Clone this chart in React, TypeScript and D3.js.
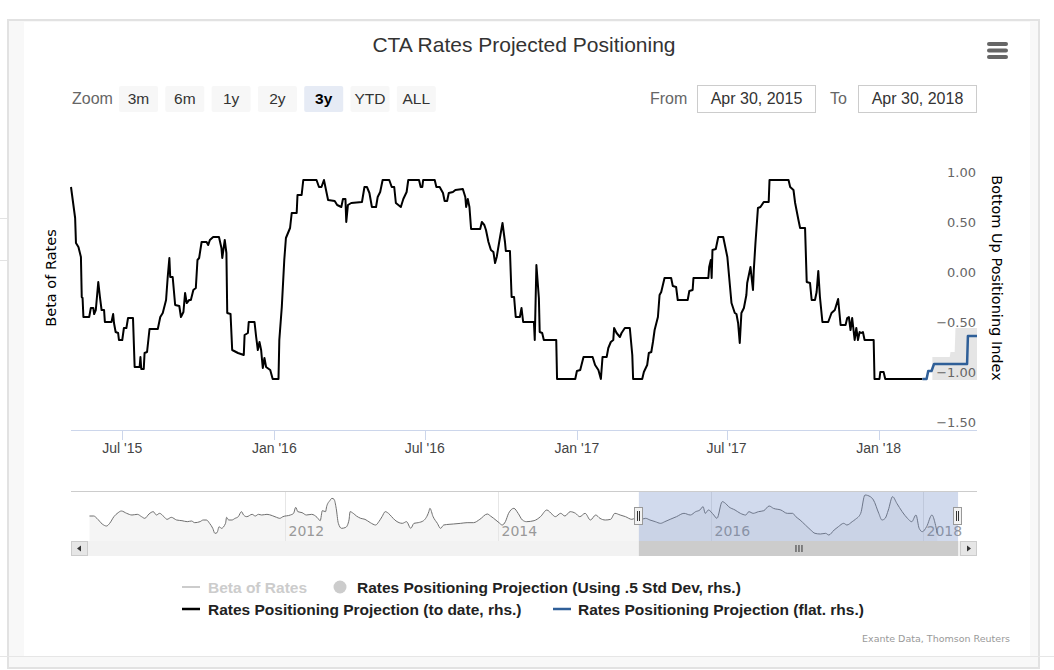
import React from 'react';
import * as d3 from 'd3';

const W = 1054;
const H = 670;

// Rates Positioning Projection (to date, rhs.)
const toDateSeries: [string, number][] = [
  ['2015-04-30', 0.93], ['2015-05-05', 0.62], ['2015-05-06', 0.37], ['2015-05-09', 0.33], ['2015-05-12', 0.23],
  ['2015-05-13', -0.17], ['2015-05-14', -0.18], ['2015-05-15', -0.37], ['2015-05-22', -0.37], ['2015-05-24', -0.28],
  ['2015-05-27', -0.28], ['2015-05-28', -0.34], ['2015-05-30', -0.3], ['2015-06-02', -0.02], ['2015-06-04', -0.17],
  ['2015-06-06', -0.3], ['2015-06-09', -0.3], ['2015-06-10', -0.42], ['2015-06-18', -0.42], ['2015-06-20', -0.34],
  ['2015-06-21', -0.43], ['2015-06-23', -0.52], ['2015-06-26', -0.53], ['2015-06-27', -0.6], ['2015-07-01', -0.6],
  ['2015-07-03', -0.48], ['2015-07-06', -0.48], ['2015-07-08', -0.38], ['2015-07-14', -0.38], ['2015-07-16', -0.87],
  ['2015-07-22', -0.87], ['2015-07-23', -0.77], ['2015-07-24', -0.89], ['2015-07-27', -0.89], ['2015-07-28', -0.73],
  ['2015-07-31', -0.72], ['2015-08-03', -0.49], ['2015-08-13', -0.49], ['2015-08-16', -0.37], ['2015-08-19', -0.33],
  ['2015-08-23', -0.2], ['2015-08-25', 0.03], ['2015-08-27', 0.22], ['2015-08-28', 0.03], ['2015-08-31', 0.03],
  ['2015-09-03', -0.25], ['2015-09-08', -0.26], ['2015-09-10', -0.37], ['2015-09-13', -0.32], ['2015-09-15', -0.13],
  ['2015-09-17', -0.23], ['2015-09-20', -0.2], ['2015-09-22', -0.2], ['2015-09-25', -0.1], ['2015-09-28', -0.08],
  ['2015-09-30', 0.2], ['2015-10-02', 0.22], ['2015-10-05', 0.38], ['2015-10-11', 0.38], ['2015-10-13', 0.35],
  ['2015-10-15', 0.4], ['2015-10-19', 0.43], ['2015-10-26', 0.43], ['2015-10-29', 0.32], ['2015-10-30', 0.22],
  ['2015-11-02', 0.4], ['2015-11-04', 0.27], ['2015-11-05', -0.33], ['2015-11-09', -0.34], ['2015-11-11', -0.7],
  ['2015-11-18', -0.73], ['2015-11-25', -0.75], ['2015-11-26', -0.55], ['2015-11-30', -0.53], ['2015-12-01', -0.42],
  ['2015-12-08', -0.42], ['2015-12-10', -0.57], ['2015-12-12', -0.7], ['2015-12-14', -0.62], ['2015-12-16', -0.7],
  ['2015-12-18', -0.88], ['2015-12-20', -0.78], ['2015-12-22', -0.87], ['2015-12-27', -0.9], ['2015-12-30', -0.99],
  ['2016-01-06', -0.99], ['2016-01-07', -0.6], ['2016-01-10', -0.27], ['2016-01-13', 0.2], ['2016-01-15', 0.42],
  ['2016-01-20', 0.52], ['2016-01-22', 0.67], ['2016-01-28', 0.67], ['2016-01-29', 0.85], ['2016-02-03', 0.85],
  ['2016-02-05', 1.0], ['2016-02-21', 1.0], ['2016-02-24', 0.93], ['2016-02-27', 0.93], ['2016-03-01', 1.0],
  ['2016-03-06', 0.8], ['2016-03-14', 0.79], ['2016-03-17', 0.75], ['2016-03-22', 0.73], ['2016-03-24', 0.81],
  ['2016-03-27', 0.81], ['2016-03-28', 0.58], ['2016-03-30', 0.75], ['2016-04-03', 0.77], ['2016-04-16', 0.78],
  ['2016-04-19', 0.93], ['2016-04-22', 0.93], ['2016-04-25', 0.87], ['2016-04-28', 0.73], ['2016-05-03', 0.73],
  ['2016-05-05', 0.83], ['2016-05-08', 0.88], ['2016-05-11', 1.0], ['2016-05-19', 1.0], ['2016-05-22', 0.93],
  ['2016-05-25', 0.93], ['2016-05-27', 0.77], ['2016-06-02', 0.73], ['2016-06-05', 0.81], ['2016-06-09', 0.88],
  ['2016-06-11', 1.0], ['2016-06-24', 1.0], ['2016-06-26', 0.93], ['2016-06-28', 0.93], ['2016-06-29', 1.0],
  ['2016-07-13', 1.0], ['2016-07-15', 0.93], ['2016-07-19', 0.93], ['2016-07-23', 0.87], ['2016-07-25', 0.79],
  ['2016-07-28', 0.79], ['2016-07-30', 0.87], ['2016-08-04', 0.88], ['2016-08-07', 0.9], ['2016-08-16', 0.91],
  ['2016-08-19', 0.83], ['2016-08-20', 0.73], ['2016-08-22', 0.81], ['2016-08-24', 0.73], ['2016-08-26', 0.51],
  ['2016-09-06', 0.51], ['2016-09-08', 0.58], ['2016-09-11', 0.55], ['2016-09-13', 0.5], ['2016-09-16', 0.38],
  ['2016-09-19', 0.3], ['2016-09-22', 0.28], ['2016-09-24', 0.17], ['2016-09-26', 0.23], ['2016-09-29', 0.38],
  ['2016-10-03', 0.57], ['2016-10-06', 0.38], ['2016-10-07', 0.29], ['2016-10-12', 0.29], ['2016-10-14', -0.17],
  ['2016-10-17', -0.17], ['2016-10-19', -0.37], ['2016-10-24', -0.37], ['2016-10-26', -0.28], ['2016-10-28', -0.42],
  ['2016-11-10', -0.42], ['2016-11-11', -0.6], ['2016-11-13', 0.15], ['2016-11-16', -0.18], ['2016-11-17', -0.52],
  ['2016-11-20', -0.53], ['2016-11-22', -0.6], ['2016-12-07', -0.6], ['2016-12-08', -0.99], ['2016-12-30', -0.99],
  ['2017-01-01', -0.91], ['2017-01-05', -0.9], ['2017-01-09', -0.77], ['2017-01-20', -0.77], ['2017-01-23', -0.85],
  ['2017-01-27', -0.9], ['2017-01-30', -0.99], ['2017-02-01', -0.77], ['2017-02-06', -0.77], ['2017-02-08', -0.68],
  ['2017-02-11', -0.62], ['2017-02-14', -0.6], ['2017-02-15', -0.48], ['2017-02-18', -0.53], ['2017-02-22', -0.57],
  ['2017-02-24', -0.53], ['2017-02-28', -0.48], ['2017-03-06', -0.48], ['2017-03-09', -0.75], ['2017-03-10', -0.99],
  ['2017-03-21', -0.99], ['2017-03-23', -0.92], ['2017-03-27', -0.85], ['2017-03-29', -0.73], ['2017-04-01', -0.72],
  ['2017-04-03', -0.62], ['2017-04-05', -0.5], ['2017-04-09', -0.37], ['2017-04-11', -0.15], ['2017-04-13', -0.12],
  ['2017-04-17', 0.02], ['2017-04-25', 0.02], ['2017-04-27', -0.06], ['2017-05-01', -0.07], ['2017-05-03', -0.2],
  ['2017-05-15', -0.2], ['2017-05-17', -0.11], ['2017-05-21', -0.1], ['2017-05-22', 0.02], ['2017-06-09', 0.02],
  ['2017-06-10', 0.13], ['2017-06-12', 0.2], ['2017-06-13', 0.02], ['2017-06-14', 0.3], ['2017-06-18', 0.31],
  ['2017-06-21', 0.43], ['2017-06-27', 0.43], ['2017-07-02', 0.23], ['2017-07-07', -0.23], ['2017-07-11', -0.33],
  ['2017-07-13', -0.34], ['2017-07-15', -0.43], ['2017-07-17', -0.63], ['2017-07-19', -0.33], ['2017-07-22', -0.28],
  ['2017-07-25', -0.15], ['2017-07-26', -0.03], ['2017-07-30', 0.13], ['2017-07-31', 0.05], ['2017-08-02', -0.1],
  ['2017-08-03', 0.1], ['2017-08-05', 0.37], ['2017-08-08', 0.72], ['2017-08-11', 0.73], ['2017-08-15', 0.78],
  ['2017-08-21', 0.78], ['2017-08-22', 1.0], ['2017-09-14', 1.0], ['2017-09-16', 0.93], ['2017-09-20', 0.9],
  ['2017-09-22', 0.77], ['2017-09-26', 0.6], ['2017-09-28', 0.52], ['2017-10-04', 0.52], ['2017-10-06', -0.02],
  ['2017-10-10', -0.03], ['2017-10-12', -0.2], ['2017-10-16', -0.2], ['2017-10-18', -0.12], ['2017-10-20', 0.09],
  ['2017-10-22', -0.17], ['2017-10-25', -0.42], ['2017-11-01', -0.42], ['2017-11-05', -0.33], ['2017-11-09', -0.3],
  ['2017-11-13', -0.19], ['2017-11-16', -0.45], ['2017-11-22', -0.45], ['2017-11-24', -0.38], ['2017-11-26', -0.37],
  ['2017-11-28', -0.5], ['2017-11-30', -0.38], ['2017-12-03', -0.6], ['2017-12-05', -0.48], ['2017-12-07', -0.6],
  ['2017-12-09', -0.52], ['2017-12-11', -0.53], ['2017-12-13', -0.52], ['2017-12-15', -0.6], ['2017-12-26', -0.6],
  ['2017-12-27', -0.99], ['2018-01-02', -0.99], ['2018-01-03', -0.92], ['2018-01-07', -0.92], ['2018-01-09', -0.99],
  ['2018-02-23', -0.99],
];

// Rates Positioning Projection (flat. rhs.)
const flatSeries: [string, number][] = [
  ['2018-02-23', -0.99], ['2018-02-28', -0.99], ['2018-03-02', -0.91], ['2018-03-06', -0.91],
  ['2018-03-09', -0.84], ['2018-04-18', -0.84], ['2018-04-19', -0.56], ['2018-04-30', -0.56],
];

// Rates Positioning Projection (Using .5 Std Dev, rhs.)
const bandDates = ['2018-03-07', '2018-03-28', '2018-03-29', '2018-04-03', '2018-04-04', '2018-04-30'];
const bandLow = [-1.0, -1.0, -1.0, -1.0, -1.0, -1.0];
const bandHigh = [-0.77, -0.77, -0.72, -0.72, -0.48, -0.48];

// Beta of Rates (navigator), [decimal year, value]
const betaSeries: [number, number][] = [
  [2010.16, 0.57], [2010.2, 0.57], [2010.23, 0.5], [2010.28, 0.33], [2010.32, 0.27], [2010.35, 0.35],
  [2010.39, 0.55], [2010.43, 0.67], [2010.46, 0.72], [2010.51, 0.65], [2010.56, 0.6], [2010.61, 0.62],
  [2010.65, 0.55], [2010.68, 0.5], [2010.72, 0.63], [2010.76, 0.7], [2010.79, 0.6], [2010.82, 0.65],
  [2010.86, 0.55], [2010.89, 0.47], [2010.93, 0.53], [2010.98, 0.45], [2011.03, 0.43], [2011.08, 0.4],
  [2011.12, 0.42], [2011.15, 0.37], [2011.2, 0.4], [2011.23, 0.45], [2011.26, 0.45], [2011.29, 0.35],
  [2011.32, 0.2], [2011.34, 0.05], [2011.36, 0.07], [2011.38, 0.25], [2011.4, 0.2], [2011.44, 0.35],
  [2011.45, 0.53], [2011.47, 0.45], [2011.5, 0.45], [2011.53, 0.5], [2011.56, 0.55], [2011.59, 0.7],
  [2011.61, 0.6], [2011.64, 0.55], [2011.69, 0.62], [2011.72, 0.57], [2011.75, 0.62], [2011.78, 0.6],
  [2011.83, 0.62], [2011.88, 0.58], [2011.92, 0.53], [2011.95, 0.5], [2011.98, 0.55], [2012.05, 0.6],
  [2012.08, 0.65], [2012.1, 0.83], [2012.12, 0.7], [2012.16, 0.67], [2012.2, 0.6], [2012.25, 0.62],
  [2012.3, 0.53], [2012.33, 0.43], [2012.35, 0.73], [2012.38, 0.7], [2012.39, 0.85], [2012.42, 1.03],
  [2012.44, 1.1], [2012.46, 1.07], [2012.48, 0.8], [2012.5, 0.35], [2012.53, 0.2], [2012.57, 0.23],
  [2012.6, 0.45], [2012.61, 0.7], [2012.64, 0.65], [2012.67, 0.57], [2012.71, 0.5], [2012.75, 0.47],
  [2012.8, 0.37], [2012.85, 0.3], [2012.88, 0.4], [2012.91, 0.55], [2012.94, 0.7], [2012.97, 0.65],
  [2013.0, 0.55], [2013.03, 0.45], [2013.07, 0.37], [2013.1, 0.35], [2013.14, 0.4], [2013.18, 0.2],
  [2013.21, 0.35], [2013.25, 0.37], [2013.3, 0.43], [2013.35, 0.7], [2013.36, 0.8], [2013.39, 0.55],
  [2013.43, 0.35], [2013.46, 0.2], [2013.49, 0.3], [2013.54, 0.32], [2013.58, 0.33], [2013.65, 0.35],
  [2013.71, 0.37], [2013.77, 0.37], [2013.83, 0.47], [2013.9, 0.63], [2013.93, 0.57], [2013.96, 0.5],
  [2014.01, 0.37], [2014.04, 0.3], [2014.07, 0.4], [2014.1, 0.65], [2014.15, 0.8], [2014.19, 0.65],
  [2014.23, 0.45], [2014.27, 0.4], [2014.34, 0.43], [2014.4, 0.55], [2014.46, 0.75], [2014.51, 0.62],
  [2014.54, 0.55], [2014.59, 0.65], [2014.63, 0.57], [2014.68, 0.7], [2014.73, 0.65], [2014.77, 0.55],
  [2014.82, 0.65], [2014.87, 0.45], [2014.92, 0.6], [2014.96, 0.5], [2015.01, 0.45], [2015.06, 0.47],
  [2015.1, 0.65], [2015.15, 0.6], [2015.2, 0.55], [2015.26, 0.47], [2015.29, 0.5], [2015.34, 0.47],
  [2015.39, 0.5], [2015.43, 0.45], [2015.48, 0.4], [2015.53, 0.35], [2015.57, 0.4], [2015.62, 0.47],
  [2015.68, 0.55], [2015.75, 0.65], [2015.81, 0.6], [2015.86, 0.7], [2015.9, 0.75], [2015.93, 0.85],
  [2015.95, 0.65], [2015.98, 0.75], [2016.03, 0.6], [2016.06, 0.5], [2016.11, 1.0], [2016.14, 0.95],
  [2016.17, 0.85], [2016.23, 0.75], [2016.28, 0.65], [2016.33, 0.6], [2016.36, 0.7], [2016.4, 0.65],
  [2016.45, 0.7], [2016.5, 0.73], [2016.55, 0.87], [2016.59, 0.8], [2016.66, 0.75], [2016.72, 0.65],
  [2016.77, 0.65], [2016.8, 0.55], [2016.84, 0.45], [2016.89, 0.3], [2016.94, 0.15], [2016.98, 0.05],
  [2017.03, 0.03], [2017.08, 0.05], [2017.11, 0.0], [2017.16, 0.15], [2017.2, 0.25], [2017.25, 0.35],
  [2017.28, 0.3], [2017.33, 0.4], [2017.36, 0.47], [2017.41, 0.65], [2017.45, 1.2], [2017.5, 1.15],
  [2017.53, 1.05], [2017.58, 0.65], [2017.61, 0.45], [2017.64, 0.5], [2017.67, 0.75], [2017.71, 1.15],
  [2017.75, 0.95], [2017.8, 0.7], [2017.85, 0.5], [2017.89, 0.4], [2017.93, 0.6], [2017.96, 0.2],
  [2017.99, 0.1], [2018.03, 0.25], [2018.08, 0.6], [2018.11, 0.35], [2018.13, 0.05],
];

const zoomButtons = ['3m', '6m', '1y', '2y', '3y', 'YTD', 'ALL'];
const selectedButton = '3y';
const yTicks = [1, 0.5, 0, -0.5, -1, -1.5];
const navYears = [2012, 2014, 2016, 2018];
const rangeFrom = '2015-04-30';
const rangeTo = '2018-04-30';
const navFrom = '2009-12-27';
const navTo = '2018-07-04';

const legendNames = [
  'Beta of Rates',
  'Rates Positioning Projection (Using .5 Std Dev, rhs.)',
  'Rates Positioning Projection (to date, rhs.)',
  'Rates Positioning Projection (flat. rhs.)',
];
const seriesColors = ['#cccccc', '#cccccc', '#000000', '#2f5f98'];

const SANS = "'Liberation Sans', Arial, sans-serif";
const VERD = "'DejaVu Sans', Verdana, sans-serif";

const parse = d3.timeParse('%Y-%m-%d');
const yearToDate = (v: number) => {
  const yr = Math.floor(v);
  const a = new Date(yr, 0, 1).getTime();
  const b = new Date(yr + 1, 0, 1).getTime();
  return new Date(a + (v - yr) * (b - a));
};

const App: React.FC = () => {
  const plot = { left: 71, right: 977, top: 180, bottom: 430 };
  const nav = { top: 492, bottom: 541 };
  const titleMid = 278;

  const x = d3.scaleTime().domain([parse(rangeFrom)!, parse(rangeTo)!]).range([plot.left, plot.right]);
  const y = d3.scaleLinear().domain([-1.5, 1]).range([plot.bottom, plot.top]);

  const nx = d3.scaleTime().domain([parse(navFrom)!, parse(navTo)!]).range([plot.left, plot.right]);
  const ext = d3.extent(betaSeries, d => d[1]) as [number, number];
  const span = ext[1] - ext[0];
  const ny = d3.scaleLinear().domain([ext[0] - span * 0.15, ext[1] + span * 0.075]).range([nav.bottom, nav.top]);

  const line = d3.line<[string, number]>().x(d => x(parse(d[0])!)).y(d => y(d[1]));
  const band = d3
    .area<number>()
    .x(i => x(parse(bandDates[i])!))
    .y0(i => y(bandLow[i]))
    .y1(i => y(bandHigh[i]));
  const navArea = d3
    .area<[number, number]>()
    .x(d => nx(yearToDate(d[0])))
    .y0(nav.bottom)
    .y1(d => ny(d[1]))
    .curve(d3.curveMonotoneX);
  const navLine = navArea.lineY1();

  const xTicks = x.ticks(d3.timeMonth.every(6)!);
  const fmtX = d3.timeFormat("%b '%y");
  const fmtY = d3.format('.2f');
  const fmtInput = d3.timeFormat('%b %-d, %Y');

  const selL = nx(parse(rangeFrom)!);
  const selR = nx(parse(rangeTo)!);
  const sbTop = nav.bottom;
  const sbH = 15;

  const handle = (hx: number) => (
    <g key={hx}>
      <rect x={hx - 4.5} y={507.5} width={8} height={17} fill="#f2f2f2" stroke="#999" strokeWidth={1} />
      <line x1={hx - 1.5} x2={hx - 1.5} y1={511} y2={521} stroke="#333" strokeWidth={1} />
      <line x1={hx + 0.5} x2={hx + 0.5} y1={511} y2={521} stroke="#333" strokeWidth={1} />
    </g>
  );

  return (
    <svg
      width={W}
      height={H}
      style={{ position: 'absolute', left: 0, top: 0, background: '#fff' }}
      xmlns="http://www.w3.org/2000/svg"
    >
      {/* page frame */}
      <line x1={0} x2={8} y1={218.5} y2={218.5} stroke="#e3e3e3" />
      <line x1={0} x2={8} y1={260.5} y2={260.5} stroke="#e3e3e3" />
      <rect x={8} y={20} width={1031} height={648} fill="#f8f8f8" stroke="#e2e2e2" strokeWidth={2} />
      <rect x={24} y={22} width={1006} height={634} fill="#ffffff" />
      <line x1={0} x2={W} y1={656.5} y2={656.5} stroke="#e6e6e6" />

      {/* title */}
      <text x={524} y={52} textAnchor="middle" fontFamily={SANS} fontSize={21} fill="#333">
        CTA Rates Projected Positioning
      </text>

      {/* context menu */}
      {[0, 1, 2].map(i => (
        <rect key={i} x={987} y={42 + i * 6.5} width={21} height={4} rx={2} fill="#666" />
      ))}

      {/* range selector */}
      <text x={72} y={104} fontFamily={SANS} fontSize={16} fill="#666">Zoom</text>
      {zoomButtons.map((b, i) => {
        const bx = 119 + i * 46.3;
        const sel = b === selectedButton;
        return (
          <g key={b}>
            <rect x={bx} y={86} width={39} height={26} rx={2} fill={sel ? '#e6ebf5' : '#f7f7f7'} />
            <text
              x={bx + 19.5}
              y={104}
              textAnchor="middle"
              fontFamily={SANS}
              fontSize={15.5}
              fontWeight={sel ? 'bold' : 'normal'}
              fill={sel ? '#000' : '#333'}
            >
              {b}
            </text>
          </g>
        );
      })}
      <text x={650} y={104} fontFamily={SANS} fontSize={16} fill="#666">From</text>
      <rect x={697.5} y={85.5} width={118} height={27} fill="#fff" stroke="#ccc" />
      <text x={756.5} y={104} textAnchor="middle" fontFamily={SANS} fontSize={16} fill="#333">
        {fmtInput(parse(rangeFrom)!)}
      </text>
      <text x={830} y={104} fontFamily={SANS} fontSize={16} fill="#666">To</text>
      <rect x={858.5} y={85.5} width={118} height={27} fill="#fff" stroke="#ccc" />
      <text x={917.5} y={104} textAnchor="middle" fontFamily={SANS} fontSize={16} fill="#333">
        {fmtInput(parse(rangeTo)!)}
      </text>

      {/* axis titles */}
      <text
        transform={`translate(56,${titleMid}) rotate(-90)`}
        textAnchor="middle"
        fontFamily={VERD}
        fontSize={14.5}
        fill="#000"
      >
        Beta of Rates
      </text>
      <text
        transform={`translate(992,${titleMid}) rotate(90)`}
        textAnchor="middle"
        fontFamily={VERD}
        fontSize={14.5}
        fill="#000"
      >
        Bottom Up Positioning Index
      </text>

      {/* std dev band */}
      <path d={band(d3.range(bandDates.length)) || ''} fill={seriesColors[1]} fillOpacity={0.5} />

      {/* x axis */}
      <line x1={plot.left} x2={plot.right} y1={plot.bottom + 0.5} y2={plot.bottom + 0.5} stroke="#ccd6eb" />
      {xTicks.map(t => (
        <g key={+t}>
          <line
            x1={Math.round(x(t)) + 0.5}
            x2={Math.round(x(t)) + 0.5}
            y1={plot.bottom}
            y2={plot.bottom + 10}
            stroke="#ccd6eb"
          />
          <text x={x(t)} y={453} textAnchor="middle" fontFamily={SANS} fontSize={14} fill="#444">
            {fmtX(t)}
          </text>
        </g>
      ))}

      {/* y axis labels (inside plot, right) */}
      {yTicks.map(v => (
        <text key={v} x={976} y={y(v) - 3} textAnchor="end" fontFamily={VERD} fontSize={13} fill="#666">
          {fmtY(v)}
        </text>
      ))}

      {/* series */}
      <path d={line(toDateSeries) || ''} fill="none" stroke={seriesColors[2]} strokeWidth={2} strokeLinejoin="round" />
      <path d={line(flatSeries) || ''} fill="none" stroke={seriesColors[3]} strokeWidth={2.5} strokeLinejoin="round" />

      {/* navigator */}
      <path d={navArea(betaSeries) || ''} fill="#f5f5f5" />
      {navYears.map(yr => {
        const gx = Math.round(nx(new Date(yr, 0, 1))) + 0.5;
        return (
          <g key={yr}>
            <line x1={gx} x2={gx} y1={nav.top} y2={nav.bottom} stroke="#e6e6e6" />
            <text x={gx + 3} y={536} fontFamily={VERD} fontSize={14} fill="#999">
              {yr}
            </text>
          </g>
        );
      })}
      <path d={navLine(betaSeries) || ''} fill="none" stroke="#707070" strokeWidth={1} />
      <rect x={selL} y={nav.top} width={selR - selL} height={nav.bottom - nav.top} fill="rgba(102,133,194,0.3)" />
      <line x1={plot.left} x2={plot.right} y1={nav.top - 0.5} y2={nav.top - 0.5} stroke="#cccccc" />
      {handle(Math.round(selL))}
      {handle(Math.round(selR))}

      {/* scrollbar */}
      <rect x={plot.left} y={sbTop} width={plot.right - plot.left} height={sbH} fill="#f2f2f2" />
      <rect x={selL} y={sbTop} width={selR - selL} height={sbH} fill="#cccccc" />
      {[-3, 0, 3].map(o => (
        <line
          key={o}
          x1={(selL + selR) / 2 + o + 0.5}
          x2={(selL + selR) / 2 + o + 0.5}
          y1={sbTop + 4}
          y2={sbTop + 11}
          stroke="#333"
        />
      ))}
      <rect x={plot.left + 0.5} y={sbTop + 0.5} width={16} height={sbH - 1} fill="#e6e6e6" stroke="#cccccc" />
      <path d={`M${plot.left + 6},${sbTop + 7.5} L${plot.left + 10},${sbTop + 4.5} L${plot.left + 10},${sbTop + 10.5} Z`} fill="#333" />
      <rect x={plot.right - 16.5} y={sbTop + 0.5} width={16} height={sbH - 1} fill="#e6e6e6" stroke="#cccccc" />
      <path d={`M${plot.right - 6},${sbTop + 7.5} L${plot.right - 10},${sbTop + 4.5} L${plot.right - 10},${sbTop + 10.5} Z`} fill="#333" />

      {/* legend */}
      <g fontFamily={SANS} fontSize={15.5} fontWeight="bold">
        <line x1={182} x2={200} y1={587} y2={587} stroke={seriesColors[0]} strokeWidth={2} />
        <text x={208} y={593} fill="#cccccc">{legendNames[0]}</text>
        <circle cx={340} cy={587} r={6.5} fill={seriesColors[1]} />
        <text x={357} y={593} fill="#222">{legendNames[1]}</text>
        <line x1={182} x2={200} y1={609} y2={609} stroke={seriesColors[2]} strokeWidth={2.5} />
        <text x={208} y={615} fill="#222">{legendNames[2]}</text>
        <line x1={553} x2={571} y1={609} y2={609} stroke={seriesColors[3]} strokeWidth={2.5} />
        <text x={578} y={615} fill="#222">{legendNames[3]}</text>
      </g>

      {/* credits */}
      <text x={1010} y={642} textAnchor="end" fontFamily={VERD} fontSize={9.5} fill="#999">
        Exante Data, Thomson Reuters
      </text>
    </svg>
  );
};

export default App;
